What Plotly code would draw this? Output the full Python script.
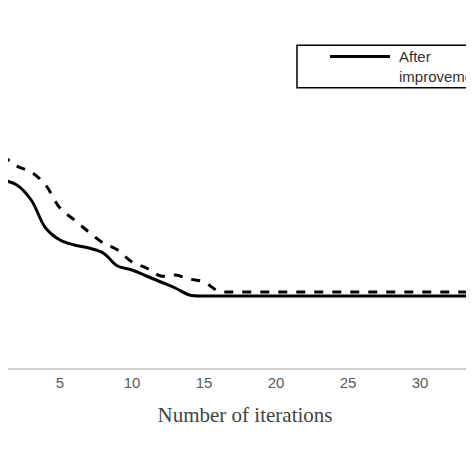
import plotly.graph_objects as go

iterations = list(range(1, 36))
after = [188,183,168,140,128,123,120,115,102,98,92,86,80,73,72] + [72]*20
before = [213,202,196,183,160,148,136,125,118,106,100,92,93,89,86,77] + [76]*19

W = H = 474
OFF = 8  # page body margin
fig = go.Figure()
fig.add_trace(go.Scatter(x=iterations, y=before, mode="lines", line=dict(color="black", width=3, dash="dash", shape="spline"), showlegend=False))
fig.add_trace(go.Scatter(x=iterations, y=after, mode="lines", line=dict(color="black", width=3, shape="spline"), showlegend=False))

def px(x): return (x - OFF) / W
def py(y): return 1 - (y - OFF) / H

fig.add_shape(type="rect", xref="paper", yref="paper", x0=px(297), x1=px(490), y0=py(113), y1=py(57), line=dict(color="black", width=1.5))
fig.add_shape(type="line", xref="paper", yref="paper", x0=px(330), x1=px(390), y0=py(72), y1=py(72), line=dict(color="black", width=3))
fig.add_annotation(xref="paper", yref="paper", x=px(397), y=py(72), text="After", showarrow=False, xanchor="left", yanchor="middle", font=dict(family="Liberation Sans", size=15, color="#333"))
fig.add_annotation(xref="paper", yref="paper", x=px(397), y=py(98), text="improvement", showarrow=False, xanchor="left", yanchor="middle", font=dict(family="Liberation Sans", size=15, color="#333"))

fig.update_layout(
    width=W, height=H, margin=dict(l=0, r=0, t=0, b=H - 368 + OFF),
    plot_bgcolor="white", paper_bgcolor="white",
    xaxis=dict(range=[(OFF + 12) / 14.4, (W + OFF + 12) / 14.4], tickvals=[5, 10, 15, 20, 25, 30, 35], showgrid=False, zeroline=False,
               showline=True, linecolor="#d0d0d0", linewidth=1.5, ticks="",
               tickfont=dict(family="Liberation Sans", size=15, color="#595959"),
               title=dict(text="Number of iterations", font=dict(family="Liberation Serif", size=21, color="#444"), standoff=18)),
    yaxis=dict(range=[0, 368 - OFF], showticklabels=False, showgrid=False, zeroline=False, showline=False),
)
fig.write_html("out.html")
